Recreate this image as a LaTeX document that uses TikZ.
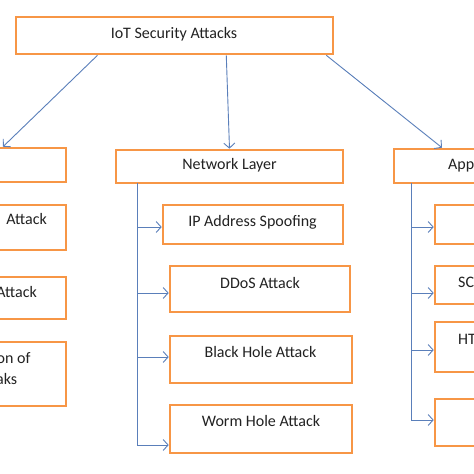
\documentclass[tikz,border=0pt]{standalone}
\usepackage{fontspec}
\setmainfont{Carlito}
\usepackage{xcolor}
\usepackage{tikz}
\usetikzlibrary{arrows.meta,calc}
\definecolor{ink}{HTML}{222222}
\definecolor{boxorange}{HTML}{F79646}
\definecolor{linkblue}{HTML}{5A7FBA}
\tikzset{
  font=\fontsize{16}{19}\selectfont,
  cell/.style={draw=boxorange,line width=2.6pt,fill=white,inner sep=0pt},
  txt/.style={text=ink,inner sep=0pt},
  link/.style={-{Straight Barb[length=5pt,width=11pt]},draw=linkblue,line width=0.9pt},
  bus/.style={draw=linkblue,line width=0.9pt}
}
\begin{document}
\begin{tikzpicture}[x=1pt,y=-1pt]
\useasboundingbox (0,0) rectangle (474,474);
\clip (0,0) rectangle (474,474);
\fill[white] (0,0) rectangle (474,474);

% top
\node[cell,minimum width=317pt,minimum height=37pt] (root) at (174.5,35.5) {};
\node[txt,anchor=base] (roott) at (174,38) {IoT Security Attacks};

% layers
\node[cell,minimum width=126pt,minimum height=34pt] (phy) at (3,165) {};
\node[cell,minimum width=227pt,minimum height=33pt] (net) at (229.5,166.5) {};
\node[txt,anchor=base] (nett) at (229.5,169) {Network Layer};
\node[cell,minimum width=96pt,minimum height=34pt] (app) at (442,166) {};
\node[txt,anchor=base west] (appt) at (448,169) {App};

\draw[link] ($(root.south west)!0.259!(root.south east)$) -- (phy.north);
\draw[link] ($(root.south west)!0.662!(root.south east)$) -- (net.north);
\draw[link] ($(root.south west)!0.975!(root.south east)$) -- (app.north);

% left column
\node[cell,minimum width=186pt,minimum height=45pt] (phya) at (-27,227.5) {};
\node[txt,anchor=base east] (phyat) at (47,224) {Attack};
\node[cell,minimum width=186pt,minimum height=42pt] (phyb) at (-27,298) {};
\node[txt,anchor=base east] (phybt) at (37,297) {Attack};
\node[cell,minimum width=186pt,minimum height=64pt] (phyc) at (-27,374) {};
\node[txt,anchor=base west] (phyct) at (-3.5,363) {on of};
\node[txt,anchor=base west] (phyct2) at (-4,384) {aks};

% network column
\coordinate (nb) at (137,183);
\node[cell,minimum width=180pt,minimum height=39pt] (ip) at (253,224.5) {};
\node[txt,anchor=base] (ipt) at (252.5,226) {IP Address Spoofing};
\node[cell,minimum width=180pt,minimum height=46pt] (ddos) at (260,289) {};
\node[txt,anchor=base] (ddost) at (260,288) {DDoS Attack};
\node[cell,minimum width=182pt,minimum height=47pt] (bh) at (261,359.5) {};
\node[txt,anchor=base] (bht) at (260.5,357) {Black Hole Attack};
\node[cell,minimum width=182pt,minimum height=48pt] (wh) at (261,429) {};
\node[txt,anchor=base] (wht) at (261,426) {Worm Hole Attack};

\draw[link] (nb) |- ([yshift=-2.5pt]ip.west);
\draw[link] (nb) |- ([yshift=-4pt]ddos.west);
\draw[link] (nb) |- ([yshift=2.5pt]bh.west);
\draw[link] (nb) |- ([yshift=-16pt]wh.west);

% application column
\coordinate (ab) at (411,183);
\node[cell,minimum width=120pt,minimum height=39pt] (appa) at (495,224.5) {};
\node[cell,minimum width=120pt,minimum height=38pt] (appb) at (495,285) {};
\node[txt,anchor=base west] (appbt) at (458,287) {SC};
\node[cell,minimum width=120pt,minimum height=50pt] (appc) at (495,347) {};
\node[txt,anchor=base west] (appct) at (458,344) {HT};
\node[cell,minimum width=120pt,minimum height=47pt] (appd) at (495,422.5) {};

\draw[link] (ab) |- ([yshift=-2.5pt]appa.west);
\draw[link] (ab) |- ([yshift=-8pt]appb.west);
\draw[link] (ab) |- ([yshift=-3pt]appc.west);
\draw[link] (ab) |- ([yshift=2.5pt]appd.west);
\end{tikzpicture}
\end{document}
